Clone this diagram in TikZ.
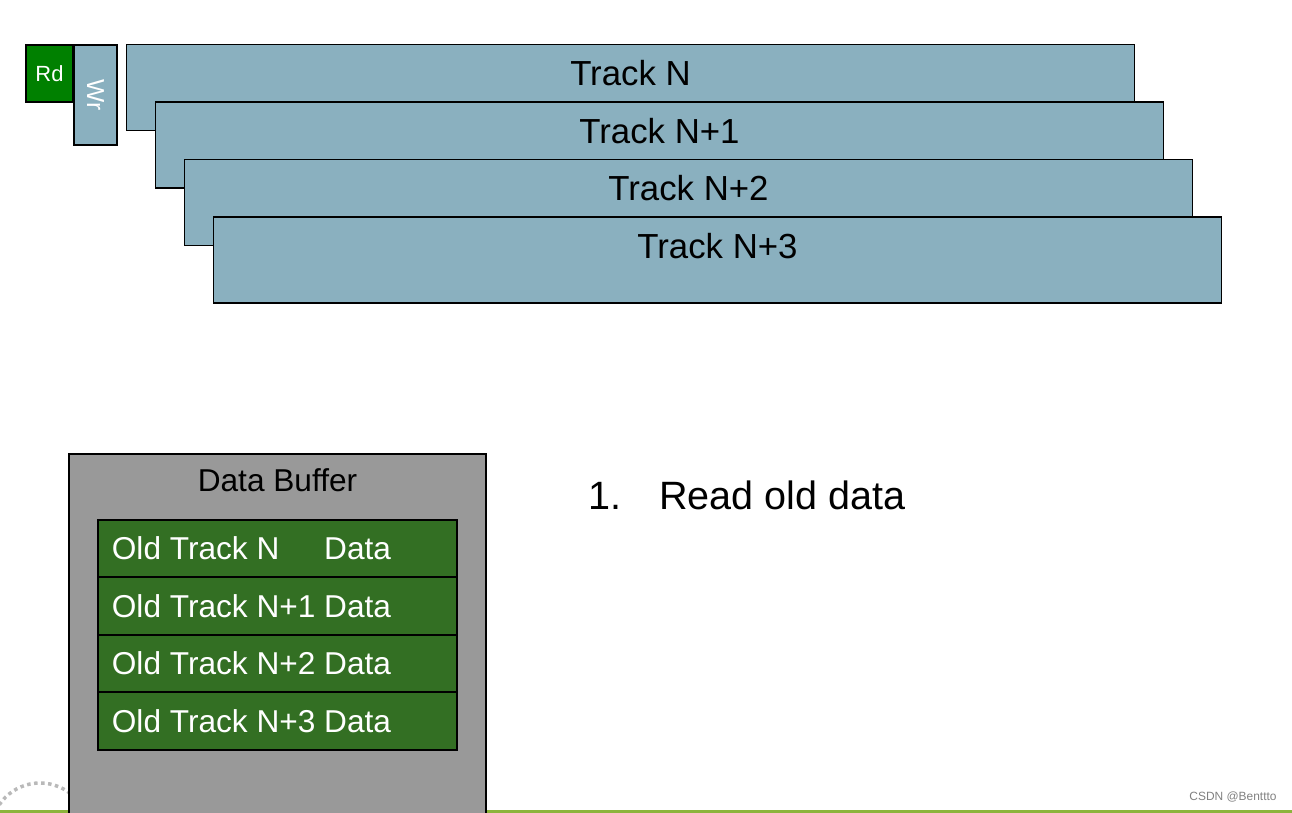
\documentclass[tikz,border=0pt]{standalone}
\usepackage{fontspec}
\setsansfont{Liberation Sans}
\definecolor{trackblue}{RGB}{138,176,191}
\definecolor{rdgreen}{RGB}{0,128,0}
\definecolor{rowgreen}{RGB}{51,111,35}
\definecolor{bufgray}{RGB}{153,153,153}
\definecolor{footgreen}{RGB}{140,180,60}
\begin{document}
\begin{tikzpicture}[x=0.02cm,y=-0.02cm,font=\sffamily,line width=1pt,
	track/.style={draw=black,fill=trackblue,inner sep=0,minimum width=20.16cm,minimum height=1.72cm},
	row/.style={draw=black,fill=rowgreen,inner sep=0,minimum width=7.18cm,minimum height=1.15cm},
	rowtext/.style={anchor=west,inner sep=0,text=white,font=\sffamily\fontsize{18}{21}\selectfont}]
		\useasboundingbox (0,0) rectangle (1292,812);
		\clip (0,0) rectangle (1292,812);
		% footer
		\draw [line width=2.5pt,footgreen] (0,812) -- (1292,812);
		\draw [gray!55,line width=2pt,dotted] (40,832) circle (49);
		\node [gray,inner sep=0,font=\sffamily\fontsize{6.8}{8}\selectfont] (mark) at (1233,797) {CSDN @Benttto};
		% head
		\node [draw=black,fill=rdgreen,inner sep=0,minimum width=0.94cm,minimum height=1.14cm,
		text=white,font=\sffamily\fontsize{12.5}{14}\selectfont] (rd) at (49.5,73.5) {Rd};
		\node [draw=black,fill=trackblue,inner sep=0,minimum width=0.86cm,minimum height=2cm] (wr) at (95.5,95) {};
		\node [rotate=-90,inner sep=0,text=white,font=\sffamily\fontsize{14}{16}\selectfont] (wrtext) at (wr.center) {Wr};
		% tracks
		\foreach \i/\lbl in {0/N,1/N+1,2/N+2,3/N+3} {
			\node [track] (track\i) at ({630.5+29*\i},{87.5+57.5*\i}) {};
			\node [inner sep=0,font=\sffamily\fontsize{19.8}{23}\selectfont] (tracktext\i)
			at ({630.5+29*\i},{73.5+57.5*\i}) {Track \lbl};
		}
		% buffer
		\node [draw=black,fill=bufgray,inner sep=0,minimum width=8.34cm,minimum height=8cm,anchor=north] (buffer) at (277.5,453) {};
		\node [inner sep=0,font=\sffamily\fontsize{18}{21}\selectfont] (buftext) at (277.5,480) {Data Buffer};
		\foreach \i/\lbl in {0/N\phantom{+1},1/N+1,2/N+2,3/N+3} {
			\node [row] (row\i) at (277.5,{548.5+57.5*\i}) {};
			\node [rowtext] (rowtext\i) at (111,{548.5+57.5*\i}) {Old Track \lbl{} Data};
		}
		% step
		\node [anchor=west,inner sep=0,font=\sffamily\fontsize{22.5}{26}\selectfont] (step) at (588,495)
		{1.\hspace{0.75cm}Read old data};
	\end{tikzpicture}
\end{document}
